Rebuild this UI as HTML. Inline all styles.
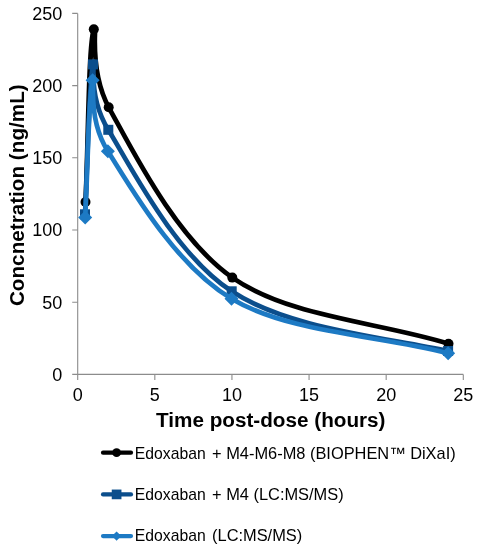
<!DOCTYPE html>
<html><head><meta charset="utf-8"><title>Chart</title>
<style>
html,body{margin:0;padding:0;background:#fff}
svg{display:block}
text{font-family:"Liberation Sans",Arial,sans-serif;fill:#000}
.tk{font-size:18px}
.ti{font-size:20.7px;font-weight:bold}
.lg{font-size:16.4px}
</style></head><body>
<svg width="480" height="550" viewBox="0 0 480 550">
<rect width="480" height="550" fill="#fff"/>
<path d="M77.7,13.4 V374.4 H463.3" fill="none" stroke="#8c8c8c" stroke-width="1.1"/>
<path d="M72.2,374.40 H77.7 M72.2,302.20 H77.7 M72.2,230.00 H77.7 M72.2,157.80 H77.7 M72.2,85.60 H77.7 M72.2,13.40 H77.7 M77.70,374.4 V379.9 M154.82,374.4 V379.9 M231.94,374.4 V379.9 M309.06,374.4 V379.9 M386.18,374.4 V379.9 M463.30,374.4 V379.9 " fill="none" stroke="#8c8c8c" stroke-width="1.1"/>
<text x="62.3" y="380.8" text-anchor="end" class="tk">0</text>
<text x="62.3" y="308.6" text-anchor="end" class="tk">50</text>
<text x="62.3" y="236.4" text-anchor="end" class="tk">100</text>
<text x="62.3" y="164.2" text-anchor="end" class="tk">150</text>
<text x="62.3" y="92.0" text-anchor="end" class="tk">200</text>
<text x="62.3" y="19.8" text-anchor="end" class="tk">250</text>
<text x="77.7" y="401.2" text-anchor="middle" class="tk">0</text>
<text x="154.8" y="401.2" text-anchor="middle" class="tk">5</text>
<text x="231.9" y="401.2" text-anchor="middle" class="tk">10</text>
<text x="309.1" y="401.2" text-anchor="middle" class="tk">15</text>
<text x="386.2" y="401.2" text-anchor="middle" class="tk">20</text>
<text x="463.3" y="401.2" text-anchor="middle" class="tk">25</text>
<path d="M85.50,202.00 C88.27,144.43 88.33,45.08 93.80,29.30 C98.67,17.52 86.62,65.92 108.70,107.30 C131.78,148.68 175.67,238.20 232.30,277.60 C288.93,317.00 376.43,321.67 448.50,343.70" fill="none" stroke="#000000" stroke-width="4.7" stroke-linejoin="round" stroke-linecap="round"/>
<circle cx="85.50" cy="202.00" r="5.00" fill="#000000"/>
<circle cx="93.80" cy="29.30" r="5.00" fill="#000000"/>
<circle cx="108.70" cy="107.30" r="5.00" fill="#000000"/>
<circle cx="232.30" cy="277.60" r="5.00" fill="#000000"/>
<circle cx="448.50" cy="343.70" r="5.00" fill="#000000"/>
<path d="M85.00,214.30 C87.67,164.33 89.12,78.48 93.00,64.40 C96.88,50.32 85.18,91.98 108.30,129.80 C131.42,167.62 175.07,254.43 231.70,291.30 C288.33,328.17 376.10,336.00 448.10,351.00" fill="none" stroke="#0b4e8c" stroke-width="4.7" stroke-linejoin="round" stroke-linecap="round"/>
<rect x="80.00" y="209.30" width="10.00" height="10.00" fill="#0b4e8c"/>
<rect x="88.00" y="59.40" width="10.00" height="10.00" fill="#0b4e8c"/>
<rect x="103.30" y="124.80" width="10.00" height="10.00" fill="#0b4e8c"/>
<rect x="226.70" y="286.30" width="10.00" height="10.00" fill="#0b4e8c"/>
<rect x="443.10" y="346.00" width="10.00" height="10.00" fill="#0b4e8c"/>
<path d="M85.20,217.50 C87.67,171.77 88.82,91.35 92.60,80.30 C96.38,69.25 84.75,114.80 107.90,151.20 C131.05,187.60 174.80,265.03 231.50,298.70 C288.20,332.37 375.90,335.03 448.10,353.20" fill="none" stroke="#1d7ac4" stroke-width="4.7" stroke-linejoin="round" stroke-linecap="round"/>
<path d="M85.20,210.50 L92.20,217.50 L85.20,224.50 L78.20,217.50 Z" fill="#1d7ac4"/>
<path d="M92.60,73.30 L99.60,80.30 L92.60,87.30 L85.60,80.30 Z" fill="#1d7ac4"/>
<path d="M107.90,144.20 L114.90,151.20 L107.90,158.20 L100.90,151.20 Z" fill="#1d7ac4"/>
<path d="M231.50,291.70 L238.50,298.70 L231.50,305.70 L224.50,298.70 Z" fill="#1d7ac4"/>
<path d="M448.10,346.20 L455.10,353.20 L448.10,360.20 L441.10,353.20 Z" fill="#1d7ac4"/>
<text x="270.75" y="427" text-anchor="middle" class="ti">Time post-dose (hours)</text>
<text transform="translate(24.4,195.2) rotate(-90)" text-anchor="middle" class="ti">Concnetration (ng/mL)</text>
<path d="M103,452.7 H131" stroke="#000000" stroke-width="4.2" stroke-linecap="round"/>
<circle cx="116.60" cy="452.70" r="4.40" fill="#000000"/>
<text x="134.8" y="459.0" class="lg"><tspan textLength="70.9" lengthAdjust="spacingAndGlyphs">Edoxaban</tspan><tspan dx="1.8"> + M4-M6-M8 (BIOPHEN™ DiXaI)</tspan></text>
<path d="M103,494.4 H131" stroke="#0b4e8c" stroke-width="4.2" stroke-linecap="round"/>
<rect x="111.75" y="489.55" width="9.70" height="9.70" fill="#0b4e8c"/>
<text x="134.8" y="500.0" class="lg"><tspan textLength="70.9" lengthAdjust="spacingAndGlyphs">Edoxaban</tspan><tspan dx="1.8"> + M4 (LC:MS/MS)</tspan></text>
<path d="M103,536.1 H131" stroke="#1d7ac4" stroke-width="4.2" stroke-linecap="round"/>
<path d="M116.60,531.41 L121.29,536.10 L116.60,540.79 L111.91,536.10 Z" fill="#1d7ac4"/>
<text x="134.8" y="541.3" class="lg"><tspan textLength="70.9" lengthAdjust="spacingAndGlyphs">Edoxaban</tspan><tspan dx="1.8"> (LC:MS/MS)</tspan></text>
</svg>
</body></html>
